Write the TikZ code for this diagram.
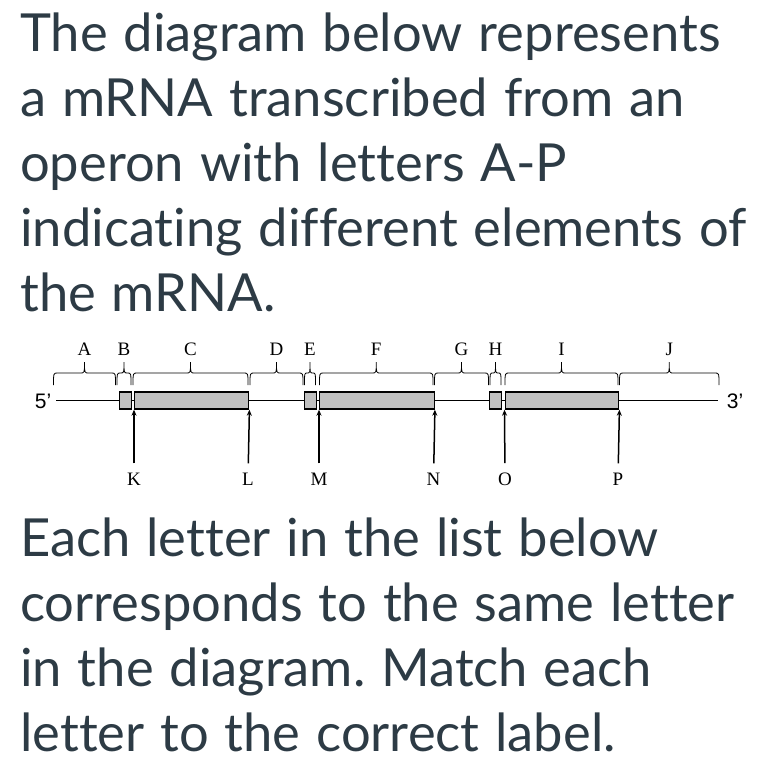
\documentclass[tikz,border=0pt]{standalone}
\usepackage{fontspec}
\setmainfont{Lato}[Ligatures={NoCommon,NoContextual,NoRare,NoDiscretionary}, WordSpace=1.18]
\newfontfamily\lblfont{Liberation Serif}
\newfontfamily\endfont{Liberation Sans}
\usetikzlibrary{positioning, arrows.meta}
\definecolor{ink}{HTML}{2D3B45}
\definecolor{exonfill}{HTML}{C0C0C0}
\frenchspacing

% curly brace over a region, with its letter on top
\newcommand{\regbrace}[4]{%
  \pgfmathsetmacro\bmid{(#1+#2)/2}%
  \pgfmathsetmacro\brad{min(4,(#2-#1)/4)}%
  \draw[brc] (#1,385) .. controls (#1,373) .. ({#1+\brad},373) -- ({\bmid-\brad},373)
    .. controls (\bmid,373) .. (\bmid,362) .. controls (\bmid,373) .. ({\bmid+\brad},373)
    -- ({#2-\brad},373) .. controls (#2,373) .. (#2,385);
  \node[lbl] (#3) at (\bmid,355) {#4};
}

\begin{document}
\begin{tikzpicture}[x=1pt, y=-1pt,
    txt/.style={anchor=base west, inner sep=0pt, text=ink, font=\fontsize{52.5}{65}\selectfont},
    lbl/.style={anchor=base, inner sep=0pt, font=\lblfont\fontsize{19}{19}\selectfont},
    endlbl/.style={anchor=base, inner sep=0pt, font=\endfont\fontsize{21}{21}\selectfont},
    box/.style={draw, line width=1.4pt, fill=exonfill, anchor=west, minimum height=17pt, inner sep=0pt},
    brc/.style={line width=0.8pt},
    arr/.style={-{Stealth[length=6pt,width=5pt]}, line width=1.5pt, shorten <=9pt}]
    \useasboundingbox (0,0) rectangle (771,783);

    % question text
    \node[txt] (t1) at (20,51.5) {The diagram below represents};
    \node[txt] (t2) at (20,116.5) {a mRNA transcribed from an};
    \node[txt] (t3) at (20,181.5) {operon with letters A-P};
    \node[txt] (t4) at (20,246.5) {indicating different elements of};
    \node[txt] (t5) at (20,311.5) {the mRNA.};

    % mRNA strand
    \coordinate (s) at (56,400.5);
    \coordinate (e) at (718,400.5);
    \node[endlbl] (five) at (43,408) {5’};
    \node[endlbl] (three) at (735,408) {3’};
    \draw[line width=1.6pt] (s) -- (e);

    \node[box, minimum width=12pt] (bB) at (119,400.5) {};
    \node[box, minimum width=114pt] (bC) at (134,400.5) {};
    \node[box, minimum width=12pt] (bE) at (304,400.5) {};
    \node[box, minimum width=114.5pt] (bF) at (319,400.5) {};
    \node[box, minimum width=12pt] (bH) at (489,400.5) {};
    \node[box, minimum width=113.5pt] (bI) at (504.5,400.5) {};

    % regions
    \regbrace{53.5}{115.5}{A}{A}
    \regbrace{117}{131}{B}{B}
    \regbrace{133}{248}{C}{C}
    \regbrace{250}{303}{D}{D}
    \regbrace{304.5}{315.5}{E}{E}
    \regbrace{319.5}{433}{F}{F}
    \regbrace{434.5}{488.5}{G}{G}
    \regbrace{490}{501}{H}{H}
    \regbrace{505}{618}{I}{I}
    \regbrace{619.5}{719}{J}{J}

    % sites
    \node[lbl] (K) at (134,485) {K};
    \node[lbl] (L) at (248,485) {L};
    \node[lbl] (M) at (319,485) {M};
    \node[lbl] (N) at (433.5,485) {N};
    \node[lbl] (O) at (505,485) {O};
    \node[lbl] (P) at (618,485) {P};
    \draw[arr] (K) -- (bC.south west);
    \draw[arr] (L) -- (bC.south east);
    \draw[arr] (M) -- (bF.south west);
    \draw[arr] (N) -- (bF.south east);
    \draw[arr] (O) -- (bI.south west);
    \draw[arr] (P) -- (bI.south east);

    \node[txt] (b1) at (20,556) {Each letter in the list below};
    \node[txt] (b2) at (20,621) {corresponds to the same letter};
    \node[txt] (b3) at (20,686) {in the diagram. Match each};
    \node[txt] (b4) at (20,751) {letter to the correct label.};
\end{tikzpicture}
\end{document}
